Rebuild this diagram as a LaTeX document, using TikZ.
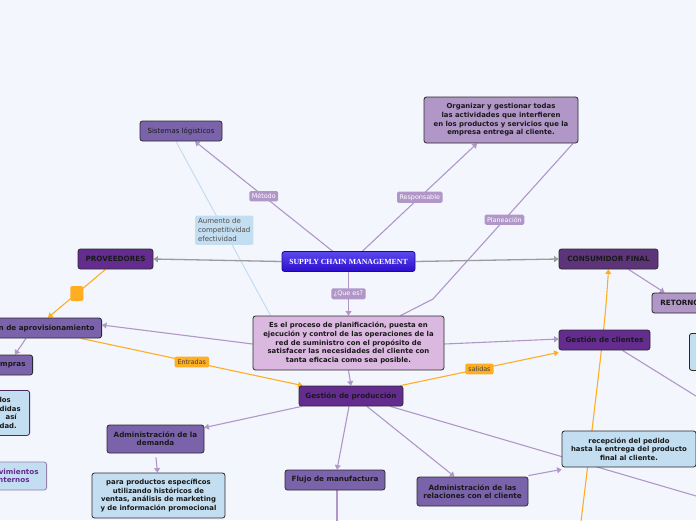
\documentclass[tikz,border=0pt]{standalone}
\usepackage{fontspec}
\setmainfont{DejaVu Sans}
\newfontfamily\scmserif{Liberation Serif}
\usepackage{tikz}
\usepackage{xcolor}
\usetikzlibrary{arrows.meta}
\pgfdeclarelayer{edges}
\pgfsetlayers{edges,main}
\newcommand\boxfont{\fontsize{7.2}{8.2}\selectfont\bfseries}
\newcommand\notefont{\fontsize{6.9}{8.6}\selectfont\bfseries}
\newcommand\tagfont{\fontsize{6.4}{7.4}\selectfont}
\newcommand\plainfont{\fontsize{7}{9}\selectfont}

\begin{document}
\begin{tikzpicture}[x=1pt,y=-1pt,
  box/.style={draw=frame,line width=0.8,rounded corners=2.5,align=center,inner sep=2,font=\boxfont,text=black!90},
  scmbox/.style={draw=royaltwo!70!black,line width=0.8,rounded corners=2.5,top color=royalone,bottom color=royaltwo,text=white,font=\scmserif\bfseries\fontsize{7.8}{8}\selectfont},
  tag/.style={fill=lilac,text=white,rounded corners=1.5,inner sep=2.5,font=\tagfont},
  ambertag/.style={fill=amber,text=black!75,rounded corners=1.5,inner sep=3,font=\tagfont},
  lilacline/.style={draw=lilac,line width=1.1},
  lilacarrow/.style={lilacline,-{Triangle[length=4.5pt,width=6pt]}},
  amberarrow/.style={draw=amber,line width=1.1,-{Triangle[length=4.5pt,width=6pt]}},
  steelarrow/.style={draw=steel,line width=1.3,-{Triangle[length=4.5pt,width=6pt]}}]
\definecolor{bgpaper}{HTML}{F4F6FE}
\definecolor{frame}{HTML}{2A2A2A}
\definecolor{midviolet}{HTML}{7B63AB}
\definecolor{deepviolet}{HTML}{652C90}
\definecolor{plumviolet}{HTML}{5D3479}
\definecolor{lilac}{HTML}{B196C8}
\definecolor{orchid}{HTML}{DAB8E0}
\definecolor{skyblue}{HTML}{C3DEF0}
\definecolor{amber}{HTML}{FFAE22}
\definecolor{steel}{HTML}{9C9C9C}
\definecolor{royalone}{HTML}{5B4AEE}
\definecolor{royaltwo}{HTML}{2C0CCC}
\useasboundingbox (0,0) rectangle (696,520);

\node[box,fill=midviolet,font=\plainfont,minimum width=82,minimum height=20] (sislog) at (181,131) {Sistemas lógisticos};
\node[box,fill=lilac,font=\notefont,minimum width=154,minimum height=46] (organizar) at (501,120)
  {Organizar y gestionar todas\\las actividades que interfieren\\en los productos y servicios que la\\empresa entrega al cliente.};
\node[box,fill=deepviolet,minimum width=75,minimum height=20] (prov) at (115.5,259) {PROVEEDORES};
\node[scmbox,minimum width=133,minimum height=20] (scm) at (348.5,261.5) {SUPPLY CHAIN MANAGEMENT};
\node[box,fill=plumviolet,minimum width=99,minimum height=20] (consumidor) at (608.5,259) {CONSUMIDOR FINAL};
\node[box,fill=lilac,minimum width=56,minimum height=20] (retorno) at (680,303) {RETORNO};
\node[box,fill=deepviolet,minimum width=91,minimum height=20] (clientes) at (604.5,340) {Gestión de clientes};
\node[box,fill=skyblue,anchor=north west,minimum width=40,minimum height=37] (notaright) at (689,333) {};
\node[box,fill=orchid,font=\notefont,minimum width=191,minimum height=54] (proceso) at (348.5,343)
  {Es el proceso de planificación, puesta en\\ejecución y control de las operaciones de la\\red de suministro con el propósito de\\satisfacer las necesidades del cliente con\\tanta eficacia como sea posible.};
\node[box,fill=midviolet,anchor=east,minimum height=20,inner xsep=7] (aprov) at (102,328) {Gestión de aprovisionamiento};
\node[box,fill=midviolet,anchor=east,minimum height=20,inner xsep=7] (compras) at (33,365) {Compras};
\node[box,fill=skyblue,draw=plumviolet!80!black,font=\notefont,anchor=north east,text width=56,align=left,minimum height=45] (notaleft) at (30,390)
  {\hspace*{28pt}los\\\hspace*{28pt}didas\\\hspace*{34pt}así\\\hspace*{28pt}dad.};
\node[box,fill=skyblue,draw=lilac!85!black,text=deepviolet,anchor=east,minimum height=28,inner xsep=8] (movim) at (47,476) {Movimientos\\internos};
\node[box,fill=midviolet,minimum width=97,minimum height=28] (demanda) at (155.5,439) {Administración de la\\demanda};
\node[box,fill=skyblue,font=\notefont,minimum width=133,minimum height=45] (productos) at (158.5,495.5)
  {para productos específicos\\utilizando históricos de\\ventas, análisis de marketing\\y de información promocional};
\node[box,fill=midviolet,minimum width=100,minimum height=20] (flujo) at (335,480) {Flujo de manufactura};
\node[box,fill=deepviolet,minimum width=104,minimum height=20] (prod) at (351,396) {Gestión de producción};
\node[box,fill=midviolet,minimum width=111,minimum height=29] (relaciones) at (472.5,491.5) {Administración de las\\relaciones con el cliente};
\node[box,fill=skyblue,font=\notefont,minimum width=134,minimum height=36] (recepcion) at (629,449)
  {recepción del pedido\\hasta la entrega del producto\\final al cliente.};

\begin{pgfonlayer}{edges}
\fill[bgpaper] (0,0) rectangle (696,520);
\coordinate (kink) at (433,299);
\coordinate (flujoend) at (337,530);
\coordinate (prodend) at (720,503);
\coordinate (clientend) at (720,411);
\coordinate (amberend) at (580,530);
\draw[lilacarrow] ([xshift=-16]scm.north) -- node[tag] (metodo) {Método} ([xshift=14]sislog.south);
\draw[lilacarrow] ([xshift=14]scm.north) -- node[tag] (responsable) {Responsable} ([xshift=-24]organizar.south);
\draw[lilacline] ([xshift=72]organizar.south) -- node[tag,pos=.49] (planeacion) {Planeación} (kink) -- ([xshift=52]proceso.north);
\draw[draw=skyblue,line width=1] ([xshift=-5]sislog.south) -- node[fill=skyblue,text=black!70,rounded corners=1.5,align=left,inner sep=3,font=\plainfont,pos=.51] (aumento) {Aumento de\\competitividad\\efectividad} ([xshift=-78]proceso.north);
\draw[steelarrow] (scm.west) -- (prov.east);
\draw[steelarrow] (scm.east) -- (consumidor.west);
\draw[lilacarrow] (scm.south) -- node[tag] (quees) {¿Que es?} (proceso.north);
\draw[amberarrow] ([xshift=-10]prov.south) -- node[fill=amber,rounded corners=1.5,minimum width=13,minimum height=15,inner sep=0] (cuadro) {} ([xshift=-54]aprov.north east);
\draw[lilacarrow] ([yshift=-1]proceso.west) -- ([yshift=3]aprov.east);
\draw[lilacarrow] ([xshift=-76]aprov.south east) -- ([xshift=-18]compras.north east);
\draw[amberarrow] ([xshift=-21]aprov.south east) -- node[ambertag] (entradas) {Entradas} ([xshift=4]prod.north west);
\draw[lilacarrow] (proceso.south) -- (prod.north);
\draw[lilacarrow] ([yshift=-1]proceso.east) -- ([yshift=1]clientes.west);
\draw[amberarrow] ([xshift=-3]prod.north east) -- node[ambertag] (salidas) {salidas} ([yshift=-2]clientes.south west);
\draw[lilacarrow] ([xshift=3]prod.south west) -- ([yshift=-3]demanda.north east);
\draw[lilacarrow,shorten <=4] (demanda.south) -- ([xshift=-1]productos.north);
\draw[lilacarrow] ([xshift=-2]prod.south) -- ([xshift=2]flujo.north);
\draw[lilacline] ([xshift=2]flujo.south) -- (flujoend);
\draw[lilacarrow] ([xshift=16]prod.south) -- ([xshift=-18]relaciones.north);
\draw[lilacarrow] ([yshift=1]relaciones.north east) -- ([yshift=-2]recepcion.south west);
\draw[lilacline] ([xshift=-13]prod.south east) -- (prodend);
\draw[lilacline] ([xshift=18]clientes.south) -- (clientend);
\draw[amberarrow] (amberend) .. controls (605,322) .. (consumidor.south);
\draw[lilacarrow] ([xshift=20]consumidor.south) -- ([xshift=13]retorno.north west);
\end{pgfonlayer}
\end{tikzpicture}
\end{document}
